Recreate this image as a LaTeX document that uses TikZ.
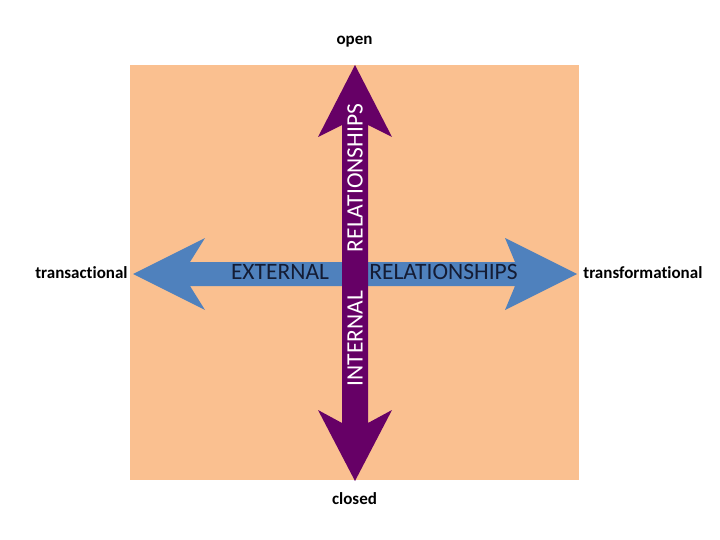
\documentclass[tikz,border=0pt]{standalone}
\usepackage{fontspec}
\setmainfont{Carlito}[RawFeature=-liga]
\usetikzlibrary{positioning}
\definecolor{peach}{RGB}{250,192,144}
\definecolor{axisblue}{RGB}{79,129,189}
\definecolor{axispurple}{RGB}{102,0,102}
\definecolor{navytext}{RGB}{20,28,52}

\begin{document}
\begin{tikzpicture}[
    x=1pt, y=-1pt,
    quad/.style={fill=peach, minimum width=449pt, minimum height=415pt, inner sep=0pt},
    pole/.style={font=\fontsize{17}{20}\selectfont\bfseries, text=black, inner sep=1pt},
    axistext/.style={font=\fontsize{23.5}{28}\selectfont, inner sep=0pt},
    harrow/.style={fill=axisblue},
    varrow/.style={fill=axispurple},
]
    \useasboundingbox (0,0) rectangle (720,540);

    % Background square
    \node[quad] (square) at (354.5,272.5) {};

    % Pole labels
    \node[pole, above=16pt of square] (open) {open};
    \node[pole, below=11pt of square] (closed) {closed};
    \node[pole, left=1pt of square] (trans) {transactional};
    \node[pole, right=3pt of square] (transf) {transformational};

    % Horizontal arrow
    \fill[harrow] (133,274) -- (205,238) -- (190,262) -- (515,262) -- (505,238) -- (577,274)
        -- (505,310) -- (515,286) -- (190,286) -- (205,310) -- cycle;
    \node[axistext, text=navytext] (ext) at (280,272) {EXTERNAL};
    \node[axistext, text=navytext] (relh) at (443.5,272) {RELATIONSHIPS};

    % Vertical arrow
    \fill[varrow] (355,65) -- (392,137) -- (368,125) -- (368,423) -- (392,410) -- (355,481)
        -- (318,410) -- (342,423) -- (342,125) -- (318,137) -- cycle;
    \node[axistext, text=white, rotate=90] (relv) at (355,178) {RELATIONSHIPS};
    \node[axistext, text=white, rotate=90] (int) at (355,338.5) {INTERNAL};
\end{tikzpicture}
\end{document}
